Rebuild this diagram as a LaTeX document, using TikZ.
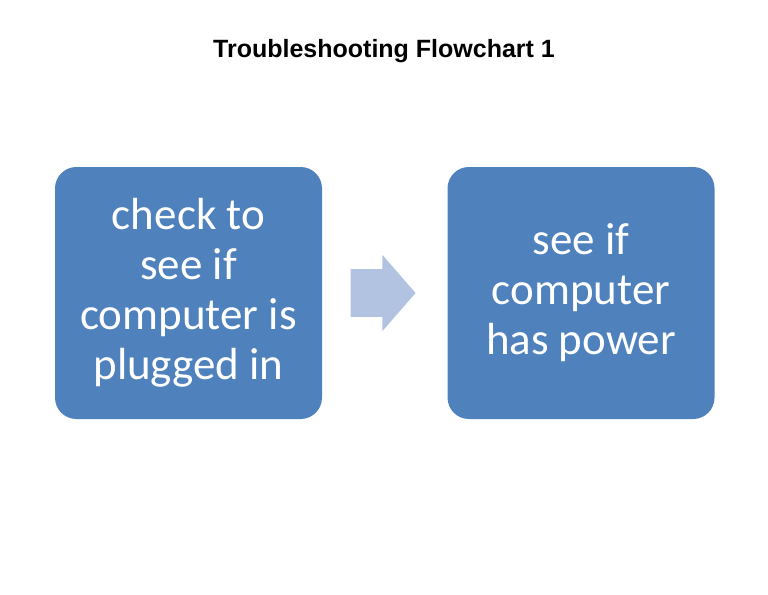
\documentclass[tikz,border=0pt]{standalone}
\usepackage{fontspec}
\setmainfont{Carlito}
\newfontfamily\titlefont{Liberation Sans}
\usetikzlibrary{positioning,shapes.arrows}
\definecolor{boxblue}{HTML}{4F81BD}
\definecolor{arrowblue}{HTML}{B1C3E1}
\begin{document}
\begin{tikzpicture}[
    x=0.75pt,y=-0.75pt,
    titletext/.style={font=\titlefont\bfseries\fontsize{18.75}{22}\selectfont,inner sep=0pt},
    stepbox/.style={fill=boxblue,text=white,align=center,rounded corners=16pt,
        minimum width=200.25pt,minimum height=189pt,inner sep=0pt,
        font=\fontsize{33.75}{37.5}\selectfont},
    flowarrow/.style={single arrow,fill=arrowblue,inner sep=0pt,minimum height=48.75pt,
        minimum width=57pt,text height=35.25pt,single arrow head extend=10.875pt,
        single arrow tip angle=98}
]
    \useasboundingbox (0,0) rectangle (768,594);
    %Title
    \node[titletext] (title) at (384,51) {Troubleshooting Flowchart 1};
    %Steps
    \node[stepbox] (check) at (188.5,293) {check to\\see if\\computer is\\plugged in};
    \node[stepbox,right=93.75pt of check] (power) {see if\\computer\\has power};
    \node[flowarrow,anchor=tail] (next) at ([xshift=21pt]check.east) {};
\end{tikzpicture}
\end{document}
